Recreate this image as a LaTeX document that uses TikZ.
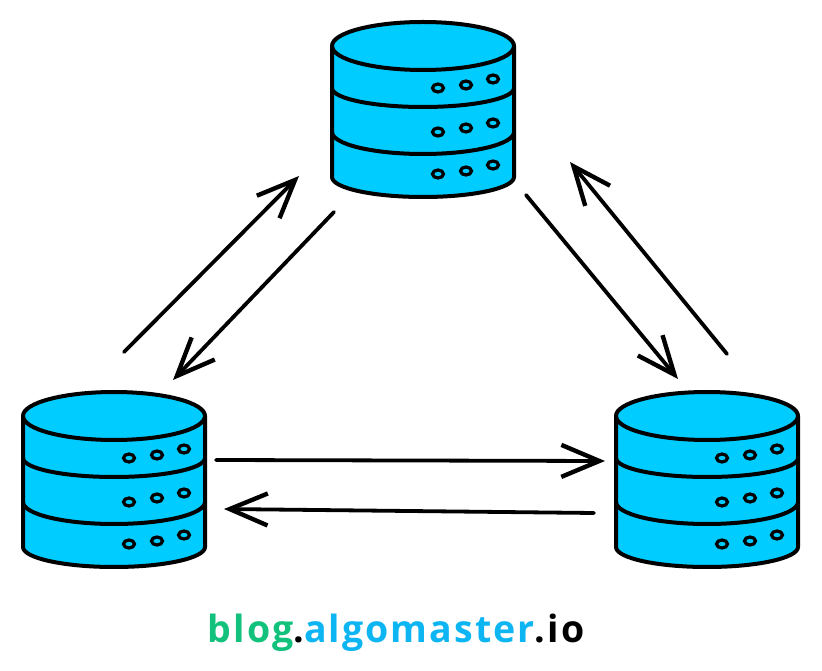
\documentclass[tikz,border=0pt]{standalone}
\usepackage{fontspec}
\setsansfont[LetterSpace=5.5]{Open Sans}
\usetikzlibrary{
  arrows.meta,
  positioning
}
\definecolor{dbfill}{HTML}{00CCFF}
\definecolor{brandgreen}{HTML}{12C27C}
\definecolor{brandblue}{HTML}{0DB5F2}

\begin{document}
\begin{tikzpicture}[
      x=1pt,y=1pt,
      link/.style={
         line width=3.8pt,
         line cap=round,
         -{Straight Barb[length=38pt,width=32pt,line width=4.4pt]}
      },
      brand/.style={
         font=\sffamily\bfseries\fontsize{37.5}{37.5}\selectfont,
         inner sep=0pt
      },
      led/.style={
         line width=3.2pt,
         draw=black,
         fill=dbfill
      },
      database/.pic={
         \node (-box) [minimum width=183pt, minimum height=176pt, inner sep=0pt] at (0,0) {};
         \filldraw[line width=4pt, fill=dbfill, line join=round]
            (-91,64) -- (-91,-67) arc (180:360:91pt and 20pt) -- (91,64)
            arc (0:180:91pt and 24pt) -- cycle;
         \draw[line width=4pt] (-91,64) arc (180:360:91pt and 24pt);
         \draw[line width=4pt] (-91,22) arc (180:360:91pt and 19pt);
         \draw[line width=4pt] (-91,-22) arc (180:360:91pt and 22pt);
         \foreach \x/\y in {15/22,43/25,70/31,15/-22,43/-18,70/-13,15/-64,43/-61,70/-55} {
            \draw[led] (\x,\y) ellipse (5.5pt and 4pt);
         }
      }
    ]
    \useasboundingbox (0,0) rectangle (822,670);

    \pic (dbtop) at (423,560) {database};
    \pic (dbleft) at (114,190) {database};
    \pic (dbright) at (707,190) {database};

    % arrow ends
    \coordinate (n11) at (124,318);
    \coordinate (n12) at (299,494);
    \coordinate (n21) at (334,458);
    \coordinate (n22) at (173,290);
    \coordinate (n31) at (526,475);
    \coordinate (n32) at (678,291);
    \coordinate (n41) at (727,316);
    \coordinate (n42) at (570,508);
    \coordinate (n51) at (216,210);
    \coordinate (n52) at (605,209);
    \coordinate (n61) at (594,157);
    \coordinate (n62) at (224,161);

    \draw[link] (n11) -- (n12);
    \draw[link] (n21) -- (n22);
    \draw[link] (n31) -- (n32);
    \draw[link] (n41) -- (n42);
    \draw[link] (n51) -- (n52);
    \draw[link] (n61) -- (n62);

    \node (site) [brand] at (396,37) {\textcolor{brandgreen}{blog}.\textcolor{brandblue}{algomaster}.io};
\end{tikzpicture}
\end{document}
